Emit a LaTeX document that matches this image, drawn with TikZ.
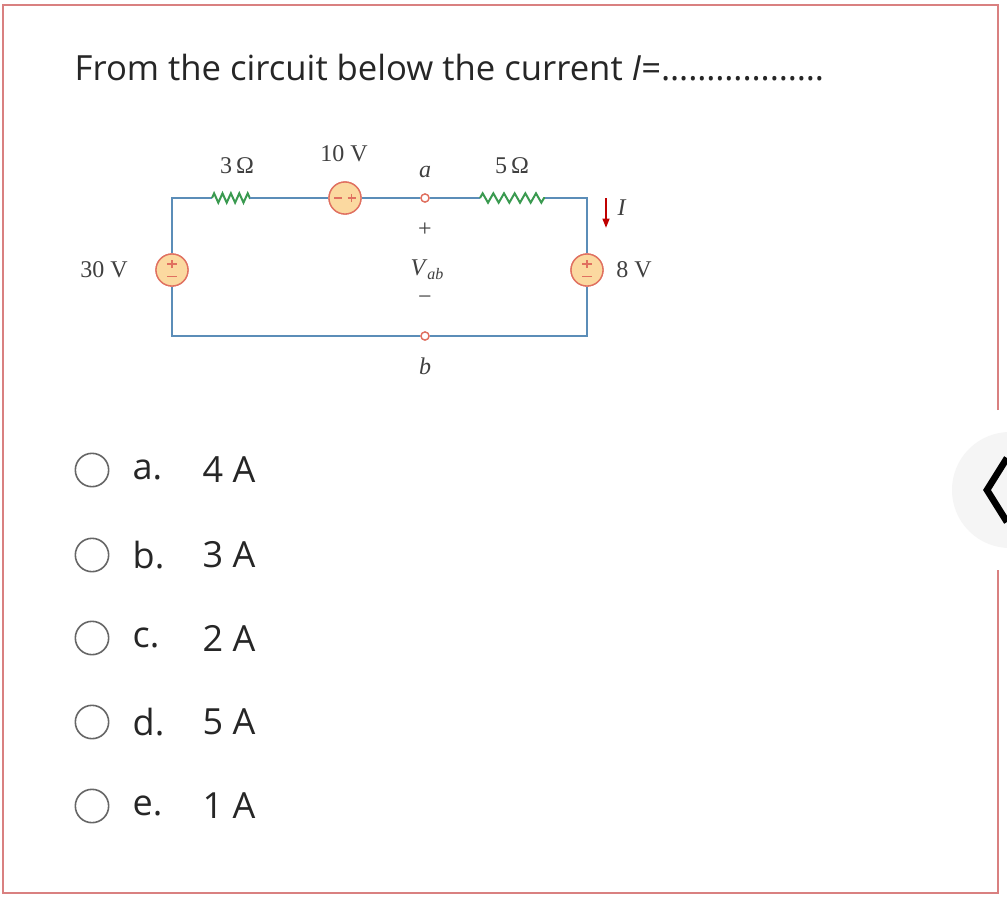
\documentclass[tikz,border=0pt]{standalone}
\usepackage{fontspec}
\setmainfont{Open Sans}
\newfontfamily\serif{Liberation Serif}
\usetikzlibrary{decorations.pathmorphing,arrows.meta}
\definecolor{wire}{HTML}{5B8DB8}
\definecolor{src}{HTML}{FBD9A0}
\definecolor{srcb}{HTML}{E07060}
\definecolor{res}{HTML}{3A9A50}
\definecolor{frame}{HTML}{D98080}
\begin{document}
\begin{tikzpicture}[x=0.75pt,y=-0.75pt,
  w/.style={draw=wire,line width=2pt},
  vs/.style={circle,draw=srcb,fill=src,line width=1pt,minimum size=24pt,inner sep=0pt},
  term/.style={circle,draw=srcb,fill=white,line width=1pt,minimum size=6pt,inner sep=0pt},
  lbl/.style={font=\serif\fontsize{18}{18}\selectfont,text=black!75},
  radio/.style={circle,draw=black!60,line width=1.2pt,minimum size=25pt,inner sep=0pt},
  opt/.style={anchor=west,font=\fontsize{27}{27}\selectfont,text=black!85}]
\useasboundingbox (0,0) rectangle (1007,897);
\fill[white] (0,0) rectangle (1007,897);
\draw[frame,line width=1.2pt] (998,410) -- (998,5) -- (3,5) -- (3,893) -- (998,893) -- (998,570);
\fill[black!4] (1010,490) circle (58);
\draw[line width=5pt,line join=miter] (1007,458) -- (987,490) -- (1007,522);
\node[anchor=west,font=\fontsize{26}{26}\selectfont,text=black!85] (title) at (70,68) {From the circuit below the current \textit{I}=\ldots\ldots\ldots\ldots\ldots\ldots};
% circuit
\coordinate (tl) at (172,198); \coordinate (tr) at (587,198);
\coordinate (bl) at (172,336); \coordinate (br) at (587,336);
\node[vs] (v30) at (172,270) {};
\node[vs] (v10) at (345,198) {};
\node[vs] (v8) at (587,270) {};
\node[term] (a) at (425,198) {};
\node[term] (b) at (425,336) {};
\coordinate (r1a) at (212,198); \coordinate (r1b) at (250,198);
\coordinate (r2a) at (480,198); \coordinate (r2b) at (545,198);
\draw[w] (v30) -- (tl) -- (r1a);
\draw[res,line width=1.5pt,decorate,decoration={zigzag,segment length=6.3pt,amplitude=3.5pt}] (r1a) -- (r1b);
\draw[w] (r1b) -- (v10);
\draw[w] (v10) -- (a) -- (r2a);
\draw[res,line width=1.5pt,decorate,decoration={zigzag,segment length=8pt,amplitude=3.5pt}] (r2a) -- (r2b);
\draw[w] (r2b) -- (tr) -- (v8);
\draw[w] (v8) -- (br) -- (b) -- (bl) -- (v30);
\node[vs] at (172,270) {}; \node[vs] at (345,198) {}; \node[vs] at (587,270) {};
\node[term] at (425,198) {}; \node[term] at (425,336) {};
\foreach \n in {v30,v8}{
 \draw[srcb,line width=0.9pt] ([yshift=1.5pt]\n.center) -- ([yshift=7.5pt]\n.center);
 \draw[srcb,line width=0.9pt] ([xshift=-3.5pt,yshift=4.5pt]\n.center) -- ([xshift=3.5pt,yshift=4.5pt]\n.center);
 \draw[srcb,line width=0.9pt] ([xshift=-3.5pt,yshift=-5pt]\n.center) -- ([xshift=3.5pt,yshift=-5pt]\n.center);}
\draw[srcb,line width=0.9pt] ([xshift=-8pt]v10.center) -- ([xshift=-2pt]v10.center);
\draw[srcb,line width=0.9pt] ([xshift=2pt]v10.center) -- ([xshift=8pt]v10.center);
\draw[srcb,line width=0.9pt] ([xshift=5pt,yshift=-3pt]v10.center) -- ([xshift=5pt,yshift=3pt]v10.center);
\node[lbl] (l3) at (237,166) {3\,Ω};
\node[lbl] (l10) at (344,154) {10 V};
\node[lbl] (la) at (425,172) {\textit{a}};
\node[lbl] (l5) at (512,166) {5\,Ω};
\node[lbl] (lp) at (425,230) {+};
\node[lbl] (lv) at (427,270) {\textit{V}\raisebox{-3pt}{\fontsize{12}{12}\selectfont\textit{ab}}};
\node[lbl] (lm) at (425,300) {−};
\node[lbl] (lb) at (425,366) {\textit{b}};
\node[lbl] (l30) at (104,270) {30 V};
\node[lbl] (l8) at (634,270) {8 V};
\coordinate (i1) at (606,198); \coordinate (i2) at (606,228);
\draw[red!75!black,line width=1.5pt,-{Triangle[length=7pt,width=5pt]}] (i1) -- (i2);
\node[lbl] (li) at (622,208) {\textit{I}};
% options
\foreach \y/\l/\v [count=\i] in {470/a./4 A,555/b./3 A,638/c./2 A,722/d./5 A,806/e./1 A}{
 \node[radio] (r\i) at (92,\y) {};
 \node[opt] (o\i) at (128,\y) {\l};
 \node[opt] (v\i) at (198,\y) {\v};}
\end{tikzpicture}
\end{document}
